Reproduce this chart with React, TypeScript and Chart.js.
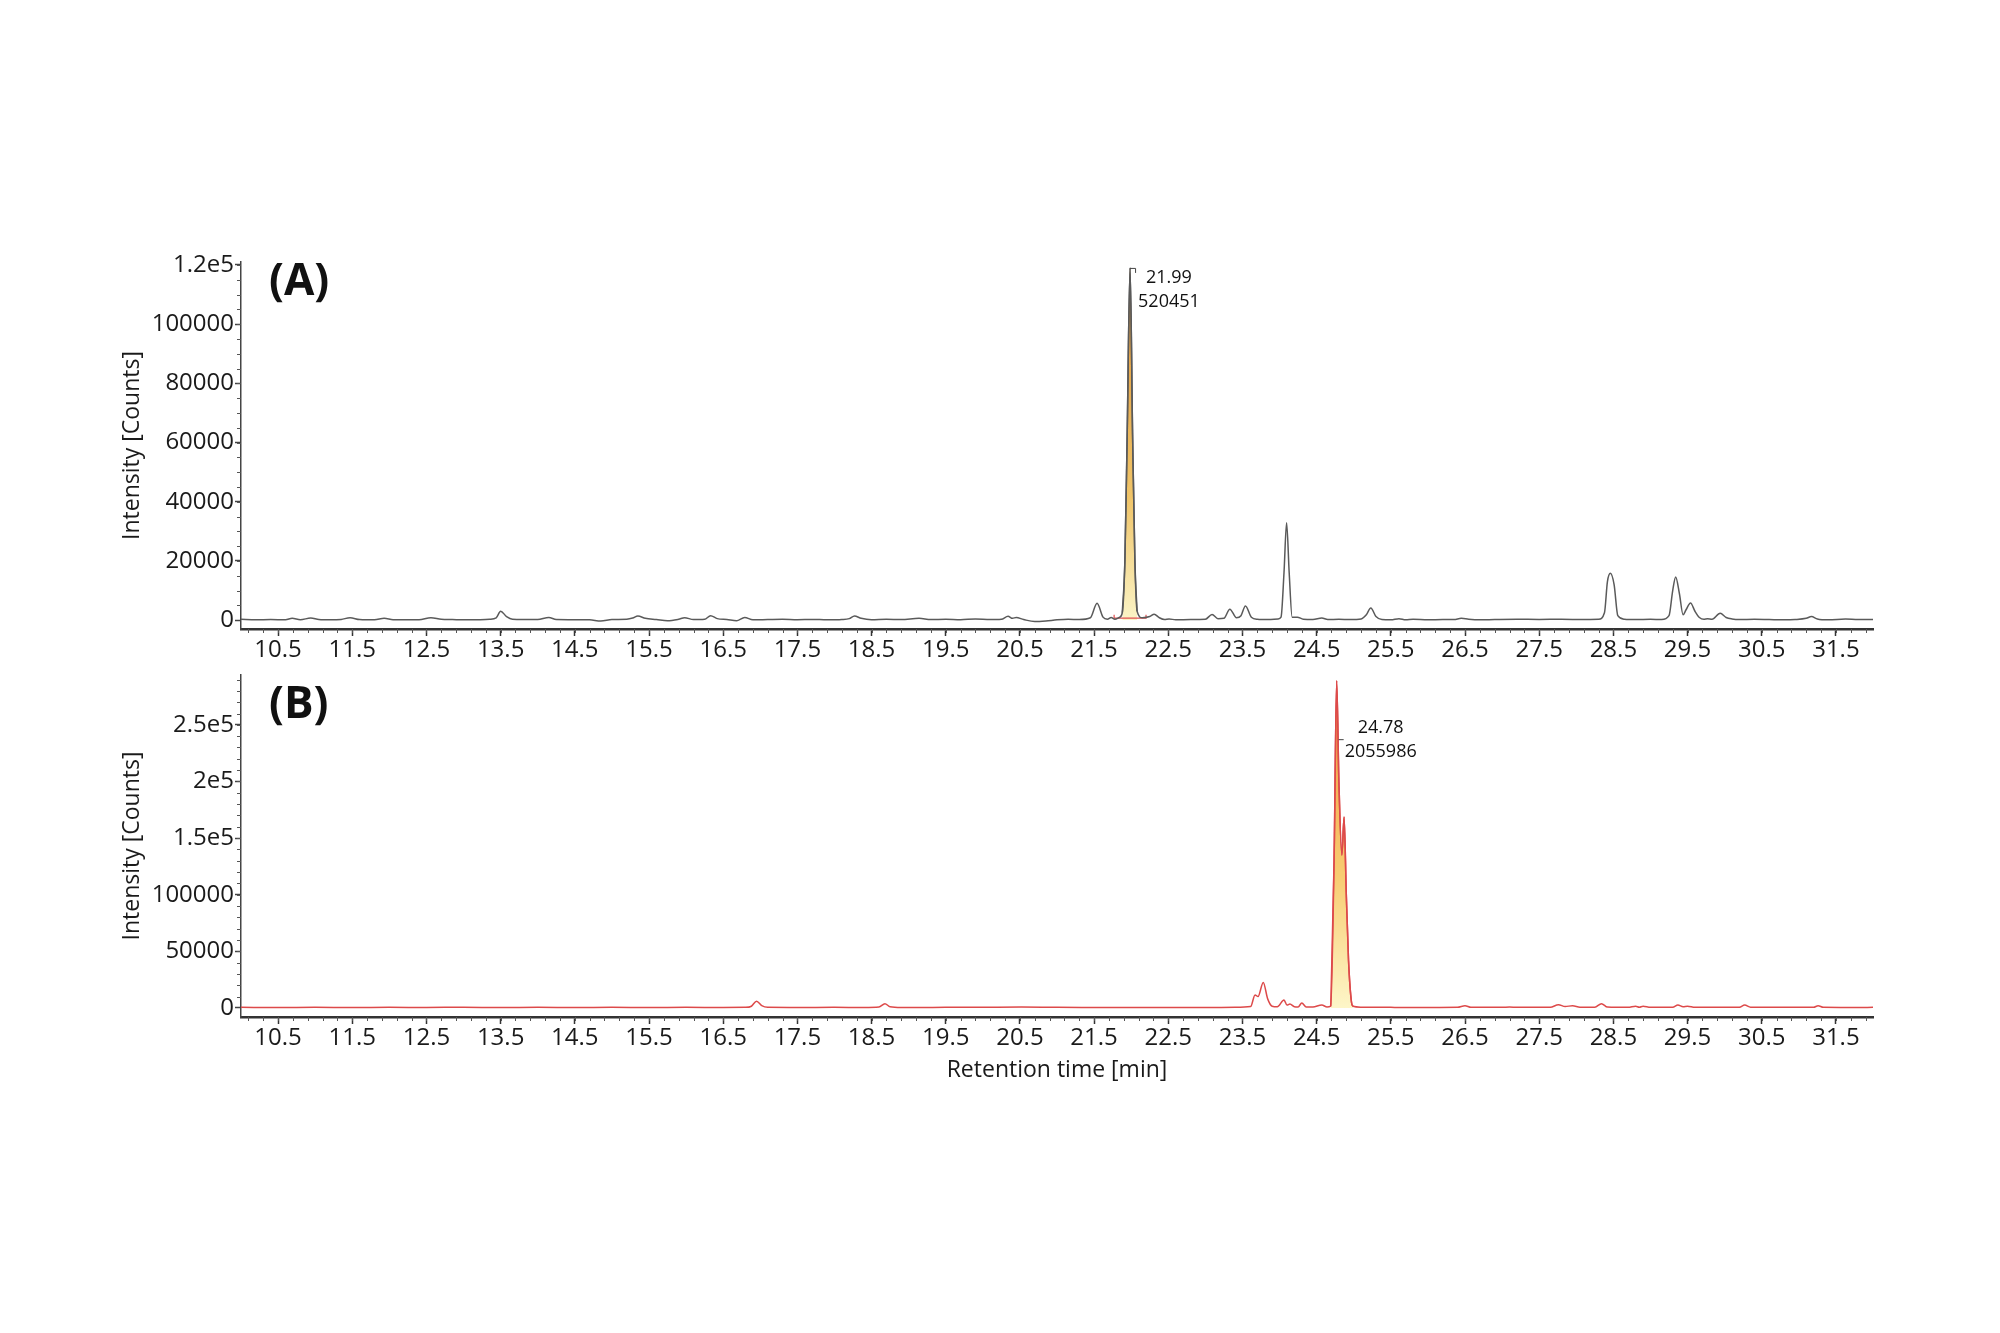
import { useEffect, useRef } from 'react';
import Chart from 'chart.js/auto';

Chart.defaults.font.family = '"Open Sans", "DejaVu Sans", sans-serif';

// x tick labels (retention time, min)
const xTickLabels = [
  10.5, 11.5, 12.5, 13.5, 14.5, 15.5, 16.5, 17.5, 18.5, 19.5, 20.5,
  21.5, 22.5, 23.5, 24.5, 25.5, 26.5, 27.5, 28.5, 29.5, 30.5, 31.5,
];
const yTicksA = [0, 20000, 40000, 60000, 80000, 100000, 120000];
const yTicksB = [0, 50000, 100000, 150000, 200000, 250000];

// trace (A) - grey chromatogram
const timeA = [
  10.0, 10.2, 10.4, 10.6, 10.69, 10.8, 10.94, 11.05, 11.2, 11.35, 11.47, 11.6, 11.8, 11.93,
  12.05, 12.2, 12.4, 12.56, 12.7, 12.85, 13.0, 13.2, 13.35, 13.44, 13.5, 13.58, 13.66, 13.8,
  14.0, 14.15, 14.25, 14.5, 14.7, 14.85, 15.0, 15.2, 15.28, 15.35, 15.45, 15.6, 15.75, 15.9,
  15.98, 16.1, 16.25, 16.33, 16.42, 16.55, 16.68, 16.79, 16.9, 17.1, 17.3, 17.5, 17.7, 17.9,
  18.1, 18.2, 18.27, 18.36, 18.5, 18.7, 18.9, 19.14, 19.3, 19.5, 19.7, 19.9, 20.1, 20.25,
  20.34, 20.4, 20.45, 20.55, 20.7, 20.85, 21.0, 21.15, 21.3, 21.45, 21.54, 21.62, 21.68,
  21.73, 21.78, 21.84, 21.88, 21.915, 21.945, 21.985, 22.02, 22.05, 22.08, 22.15, 22.25,
  22.31, 22.38, 22.45, 22.51, 22.6, 22.8, 23.0, 23.09, 23.17, 23.25, 23.33, 23.42, 23.48,
  23.54, 23.62, 23.7, 23.85, 23.98, 24.02, 24.06, 24.095, 24.13, 24.17, 24.24, 24.32, 24.45,
  24.57, 24.65, 24.8, 24.95, 25.1, 25.17, 25.23, 25.3, 25.38, 25.5, 25.61, 25.7, 25.8, 26.0,
  26.2, 26.35, 26.45, 26.55, 26.7, 26.9, 27.2, 27.5, 27.8, 28.1, 28.3, 28.38, 28.42, 28.46,
  28.51, 28.56, 28.65, 28.8, 29.0, 29.15, 29.25, 29.3, 29.34, 29.39, 29.44, 29.48, 29.54,
  29.6, 29.66, 29.72, 29.77, 29.83, 29.94, 30.02, 30.1, 30.2, 30.4, 30.6, 30.8, 30.95, 31.1,
  31.17, 31.25, 31.4, 31.63, 31.8, 32.0,
];
const countsA = [
  300, 100, 200, 100, 600, 150, 700, 200, 100, 250, 800, 200, 100, 600,
  150, 100, 150, 800, 300, 200, 100, 150, 300, 800, 3000, 1200, 300, 200,
  250, 900, 200, 150, 100, -300, 200, 300, 700, 1400, 600, 200, -200, 300,
  800, 200, 300, 1500, 500, 200, -200, 900, 100, 200, 300, 150, 250, 100,
  200, 500, 1400, 600, 150, 300, 200, 600, 200, 300, 150, 400, 200, 300,
  1300, 600, 900, 200, -500, -300, 100, 300, 200, 800, 5700, 1000, 300,
  900, 300, 900, 2500, 20000, 61000, 119000, 61000, 20000, 3000, 800, 1200,
  2000, 800, 200, 400, 100, 200, 300, 1900, 500, 600, 3700, 800, 1500,
  4800, 1000, 300, 200, 400, 1000, 16000, 32900, 16000, 1000, 1000, 300, 200,
  700, 200, 300, 200, 400, 1800, 4100, 1200, 200, 100, 500, 100, 300, 100,
  200, 200, 600, 300, 100, 200, 300, 250, 300, 200, 300, 2500, 13000, 15800,
  12000, 1500, 300, 200, 300, 200, 1500, 10000, 14600, 9000, 1800, 3500, 5800,
  3000, 900, 300, 500, 300, 2300, 900, 400, 200, 300, 200, 100, 200, 600,
  1200, 400, 100, 400, 200, 200,
];

// trace (B) - red chromatogram
const timeB = [
  10.0, 10.5, 11.0, 11.5, 12.0, 12.5, 13.0, 13.5, 14.0, 14.5, 15.0, 15.5, 16.0, 16.5,
  16.8, 16.88, 16.95, 17.02, 17.1, 17.5, 18.0, 18.4, 18.6, 18.68, 18.75, 18.9, 19.5, 20.0,
  20.52, 21.0, 21.5, 22.0, 22.5, 23.0, 23.4, 23.61, 23.67, 23.71, 23.78, 23.84, 23.9, 23.97,
  24.06, 24.1, 24.14, 24.2, 24.25, 24.3, 24.36, 24.45, 24.57, 24.64, 24.69, 24.735, 24.77,
  24.8, 24.84, 24.87, 24.9, 24.93, 24.97, 24.99, 25.1, 25.5, 26.0, 26.4, 26.5, 26.58, 27.0,
  27.1, 27.2, 27.65, 27.76, 27.85, 27.95, 28.05, 28.25, 28.34, 28.42, 28.7, 28.8, 28.85,
  28.9, 29.0, 29.3, 29.37, 29.44, 29.5, 29.6, 30.0, 30.2, 30.27, 30.35, 30.8, 31.2, 31.26,
  31.33, 31.7, 32.0,
];
const countsB = [
  500, 400, 500, 300, 500, 400, 600, 300, 500, 400, 500, 300, 500, 400,
  500, 1500, 6000, 2000, 500, 400, 500, 400, 800, 3800, 1000, 400, 500, 600,
  800, 500, 400, 300, 400, 300, 500, 1200, 11500, 10000, 22500, 8000, 1500, 1000,
  7000, 2500, 3500, 1000, 800, 4400, 800, 900, 2600, 800, 1500, 130000, 289000,
  200000, 135000, 168700, 100000, 42000, 5000, 1500, 700, 500, 400, 500, 2000, 600, 500,
  900, 500, 600, 2900, 1200, 2000, 700, 600, 3800, 800, 500, 1500, 600,
  1500, 500, 600, 2600, 1000, 1500, 500, 600, 700, 2600, 700, 500, 600, 2000,
  500, 400, 500,
];

// integrated peaks
const peakA = { start: 21.87, end: 22.09, time: '21.99', area: '520451' };
const peakB = { start: 24.68, end: 25.0, time: '24.78', area: '2055986' };
const baselineATime = [21.77, 21.77, 22.2, 22.2];
const baselineACounts = [1800, 700, 700, 1800];

const fmtY = (v: number) => (v > 100000 ? `${v / 1e5}e5` : String(v));

const tickFont = { family: '"Open Sans"', size: 24 };
const titleFont = { family: '"Open Sans"', size: 23 };

const decor = {
  id: 'decor',
  afterDraw(chart: any, _args: any, opts: any) {
    const { ctx, chartArea, scales } = chart;
    const x = scales.x;
    const y = scales.y;
    ctx.save();
    ctx.strokeStyle = '#555';
    ctx.lineWidth = 1;
    ctx.beginPath();
    for (let i = 0; 10.1 + i * 0.2 < x.max; i++) {
      const px = Math.round(x.getPixelForValue(10.1 + i * 0.2)) + 0.5;
      ctx.moveTo(px, chartArea.bottom);
      ctx.lineTo(px, chartArea.bottom + 4);
    }
    for (let v = opts.yMinor; v < y.max; v += opts.yMinor) {
      const py = Math.round(y.getPixelForValue(v)) + 0.5;
      ctx.moveTo(chartArea.left - 4, py);
      ctx.lineTo(chartArea.left, py);
    }
    ctx.stroke();

    // panel letter
    ctx.fillStyle = '#111';
    ctx.font = 'bold 44px "Open Sans"';
    ctx.textAlign = 'left';
    ctx.textBaseline = 'middle';
    ctx.fillText(opts.letter, chartArea.left + 28, chartArea.top + opts.letterDy);

    // peak label
    const ds = chart.data.datasets[0].data as { x: number; y: number }[];
    let apex = ds[0];
    ds.forEach((p) => {
      if (p.y > apex.y) apex = p;
    });
    const px = x.getPixelForValue(apex.x);
    const py = y.getPixelForValue(apex.y);
    ctx.font = '18px "Open Sans"';
    ctx.fillStyle = '#111';
    const w = ctx.measureText(opts.peak.area).width;
    const cx = px + 8 + w / 2;
    ctx.textAlign = 'center';
    ctx.fillText(opts.peak.time, cx, py + opts.labelDy);
    ctx.fillText(opts.peak.area, cx, py + opts.labelDy + 24);
    ctx.strokeStyle = '#444';
    ctx.beginPath();
    if (opts.bracket) {
      ctx.moveTo(px, py + 0.5);
      ctx.lineTo(px + 5.5, py + 0.5);
      ctx.lineTo(px + 5.5, py + 5);
    } else {
      ctx.moveTo(px + 2, py + opts.labelDy + 12);
      ctx.lineTo(px + 7, py + opts.labelDy + 12);
    }
    ctx.stroke();
    ctx.restore();
  },
};

const gradientFill = (stops: [number, string][]) => (context: any) => {
  const { chart } = context;
  const { ctx, chartArea, scales } = chart;
  if (!chartArea) return 'rgba(0,0,0,0)';
  const values = (context.dataset.data as { y: number }[]).map((p) => p.y);
  const top = scales.y.getPixelForValue(Math.max(...values));
  const bottom = scales.y.getPixelForValue(0);
  const g = ctx.createLinearGradient(0, top, 0, bottom);
  stops.forEach(([o, c]) => g.addColorStop(o, c));
  return g;
};

interface PanelProps {
  top: number;
  height: number;
  padTop: number;
  xHeight: number;
  times: number[];
  counts: number[];
  color: string;
  peak: { start: number; end: number; time: string; area: string };
  yMin: number;
  yMax: number;
  yTicks: number[];
  yMinor: number;
  letter: string;
  letterDy: number;
  labelDy: number;
  bracket: boolean;
  xTitle: boolean;
  stops: [number, string][];
  extra?: any[];
}

const Panel: React.FC<PanelProps> = (p) => {
  const ref = useRef<HTMLCanvasElement>(null);

  useEffect(() => {
    if (!ref.current) return;
    const points = p.times.map((t, i) => ({ x: t, y: p.counts[i] }));
    const peakPts = points.filter((pt) => pt.x >= p.peak.start && pt.x <= p.peak.end);

    const chart = new Chart(ref.current, {
      type: 'line',
      data: {
        datasets: [
          {
            data: peakPts,
            borderColor: p.color,
            borderWidth: 1.5,
            pointRadius: 0,
            cubicInterpolationMode: 'monotone',
            fill: false,
            order: 2,
          },
          {
            data: points,
            borderColor: p.color,
            borderWidth: 1.5,
            pointRadius: 0,
            cubicInterpolationMode: 'monotone',
            fill: false,
            order: 1,
          },
          ...(p.extra || []),
          {
            data: peakPts,
            borderWidth: 0,
            pointRadius: 0,
            cubicInterpolationMode: 'monotone',
            fill: 'origin',
            backgroundColor: gradientFill(p.stops),
            order: 5,
          },
        ],
      },
      options: {
        animation: false,
        responsive: true,
        maintainAspectRatio: false,
        layout: { padding: { top: p.padTop, right: 127, left: 0, bottom: 0 } },
        plugins: {
          legend: { display: false },
          tooltip: { enabled: false },
          decor: {
            yMinor: p.yMinor,
            letter: p.letter,
            letterDy: p.letterDy,
            labelDy: p.labelDy,
            bracket: p.bracket,
            peak: p.peak,
          },
        } as any,
        scales: {
          x: {
            type: 'linear',
            min: 10,
            max: 32,
            afterBuildTicks: (s: any) => {
              s.ticks = xTickLabels.map((value) => ({ value }));
            },
            afterFit: (s: any) => {
              s.height = p.xHeight;
            },
            ticks: {
              callback: (v: any) => Number(v).toFixed(1),
              font: tickFont,
              color: '#1a1a1a',
              padding: 0,
              maxRotation: 0,
              autoSkip: false,
            },
            grid: { drawOnChartArea: false, tickLength: 7, tickColor: '#333', tickWidth: 1.5 },
            border: { color: '#333', width: 2.5 },
            title: {
              display: p.xTitle,
              text: 'Retention time [min]',
              font: titleFont,
              color: '#1a1a1a',
              padding: { top: 0, bottom: 13 },
            },
          },
          y: {
            min: p.yMin,
            max: p.yMax,
            afterBuildTicks: (s: any) => {
              s.ticks = p.yTicks.map((value) => ({ value }));
            },
            afterFit: (s: any) => {
              s.width = 241;
            },
            ticks: {
              callback: (v: any) => fmtY(Number(v)),
              font: tickFont,
              color: '#1a1a1a',
              padding: 1,
              autoSkip: false,
            },
            grid: { drawOnChartArea: false, tickLength: 6, tickColor: '#444', tickWidth: 1.5 },
            border: { color: '#444', width: 1.5 },
            title: {
              display: true,
              text: 'Intensity [Counts]',
              font: titleFont,
              color: '#1a1a1a',
              padding: { top: 119, bottom: 0 },
            },
          },
        },
      },
      plugins: [decor],
    });

    return () => {
      chart.destroy();
    };
  }, []);

  return (
    <div style={{ position: 'absolute', left: 0, top: p.top, width: 2000, height: p.height }}>
      <canvas ref={ref} />
    </div>
  );
};

const App = () => {
  const baselineA = baselineATime.map((t, i) => ({ x: t, y: baselineACounts[i] }));
  return (
    <div style={{ position: 'absolute', left: 0, top: 0, width: 2000, height: 1333, background: '#fff' }}>
      <Panel
        top={230}
        height={440}
        padTop={32}
        xHeight={41}
        times={timeA}
        counts={countsA}
        color="#5a5a5a"
        peak={peakA}
        yMin={-3000}
        yMax={121000}
        yTicks={yTicksA}
        yMinor={5000}
        letter="(A)"
        letterDy={20}
        labelDy={10}
        bracket={true}
        xTitle={false}
        stops={[
          [0, '#e0963a'],
          [0.65, '#f0c468'],
          [1, '#fbf4c6'],
        ]}
        extra={[
          {
            data: baselineA,
            borderColor: '#e05050',
            borderWidth: 1.2,
            pointRadius: 0,
            fill: false,
            order: 3,
          },
        ]}
      />
      <Panel
        top={655}
        height={442}
        padTop={20}
        xHeight={80}
        times={timeB}
        counts={countsB}
        color="#dd4a4a"
        peak={peakB}
        yMin={-8000}
        yMax={294000}
        yTicks={yTicksB}
        yMinor={10000}
        letter="(B)"
        letterDy={30}
        labelDy={47}
        bracket={false}
        xTitle={true}
        stops={[
          [0, '#f09a3c'],
          [0.6, '#f8cc72'],
          [1, '#fdf6c8'],
        ]}
      />
    </div>
  );
};

export default App;
